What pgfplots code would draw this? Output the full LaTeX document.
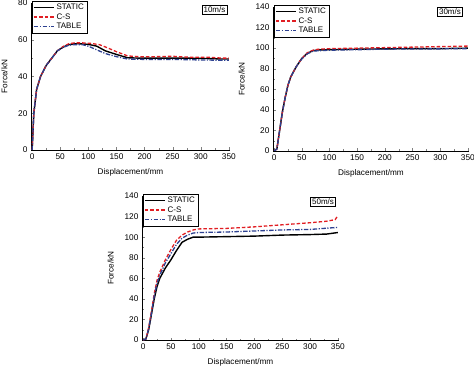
\documentclass[border=0pt]{standalone}
\usepackage{pgfplots}
\pgfplotsset{compat=1.18}
\usepackage{fontspec}
\setmainfont{Liberation Sans}
\definecolor{cred}{RGB}{225,30,35}
\definecolor{cblue}{RGB}{45,65,145}
\pgfplotsset{
  myax/.style={
    scale only axis,
    axis lines=left,
    axis line style={-, line width=0.5pt},
    tick align=inside,
    major tick length=2.5pt,
    minor tick length=1.5pt,
    minor x tick num=1,
    minor y tick num=1,
    xmin=-2, xmax=352,
    xtick={0,50,...,350},
    ymin=0,
    tick label style={font=\fontsize{8.3}{9}\selectfont},
    label style={font=\fontsize{8.2}{9}\selectfont},
    /pgf/number format/assume math mode=true,
    xlabel={Displacement/mm},
    ylabel={Force/kN},
    xlabel style={yshift=-2pt},
    ylabel style={yshift=4pt},
    legend cell align=left,
    legend style={font=\fontsize{8}{8.5}\selectfont, at={(rel axis cs:0.005,1.015)}, anchor=north west,
      draw=black, line width=0.4pt, inner sep=1pt, row sep=-1.5pt},
    legend image code/.code={\draw[#1, line width=1.4pt] (0pt,0pt) -- (20pt,0pt);},
  },
  sS/.style={color=black, line width=1.4pt},
  sC/.style={color=cred, line width=1.3pt, dash pattern=on 3.5pt off 2pt},
  sT/.style={color=cblue, line width=1.3pt, dash pattern=on 4.5pt off 1.5pt on 1.2pt off 1.5pt},
}
\begin{document}
\begin{tikzpicture}
\useasboundingbox (0,0) rectangle (474pt,-366pt);
% Plot 1
\begin{axis}[myax, at={(31pt,-150pt)}, anchor=south west, width=199pt, height=147pt,
  ymax=80, ytick={0,20,...,80}]
\addplot[sS] coordinates {(0,0)(3,20)(8,33)(15,40)(25,46)(35,50)(45,54)(55,56)(65,57.3)(75,57.8)(85,57.8)(100,57.5)(115,56.5)(130,54)(150,52)(170,50.2)(190,50)(220,50)(250,50)(280,50)(310,49.8)(340,49.5)(350,49.5)};
\addplot[sC] coordinates {(0,0)(3,20)(8,33)(15,40)(25,46)(35,50)(45,54)(55,56.3)(65,57.8)(75,58.3)(90,58.3)(105,58)(120,57.3)(135,55.5)(150,53.5)(170,51.2)(190,50.8)(220,50.8)(250,51)(280,50.5)(310,50.5)(340,50)(350,50)};
\addplot[sT] coordinates {(0,0)(3,20)(8,33)(15,40)(25,46)(35,50)(45,54)(55,55.8)(65,57)(75,57.3)(90,57.3)(100,56.5)(115,54.5)(130,52.5)(150,50.8)(170,49.5)(200,49.3)(250,49.3)(300,49)(350,48.8)};
\legend{STATIC, C-S, TABLE}
\node[draw, line width=0.4pt, inner sep=1.5pt, font=\fontsize{8}{8.5}\selectfont] at (rel axis cs:0.922,0.956) {10m/s};
\end{axis}
% Plot 2
\begin{axis}[myax, at={(273pt,-151pt)}, anchor=south west, width=196pt, height=144pt,
  ymax=140, ytick={0,20,...,140}]
\addplot[sS] coordinates {(0,0)(5,2)(10,20)(15,38)(20,52)(25,64)(30,72)(40,82)(50,90)(60,95)(70,97.5)(80,98.3)(100,98.5)(150,99)(200,99.3)(250,99.5)(300,99.5)(350,100)};
\addplot[sC] coordinates {(0,0)(5,2)(10,20)(15,38)(20,52)(25,64)(30,72)(40,82)(50,90)(60,95.5)(70,98)(80,99)(100,99.5)(150,100)(200,100.5)(250,101)(300,101.5)(350,102)};
\addplot[sT] coordinates {(0,0)(5,2)(10,20)(15,38)(20,52)(25,64)(30,72)(40,82)(50,89.5)(60,94.5)(70,97)(80,97.5)(100,98)(150,98.5)(200,99)(250,99.2)(300,99.3)(350,99.5)};
\legend{STATIC, C-S, TABLE}
\node[draw, line width=0.4pt, inner sep=1.5pt, font=\fontsize{8}{8.5}\selectfont] at (rel axis cs:0.903,0.965) {30m/s};
\end{axis}
% Plot 3
\begin{axis}[myax, at={(142pt,-340pt)}, anchor=south west, width=197pt, height=144pt,
  ymax=140, ytick={0,20,...,140}]
\addplot[sS] coordinates {(0,0)(5,1)(10,10)(15,25)(20,40)(25,52)(30,60)(40,70)(50,78)(60,87)(70,95)(80,98)(90,100)(100,100)(150,100.5)(200,101)(250,102)(300,102.5)(330,103)(350,104.5)};
\addplot[sC] coordinates {(0,0)(5,1)(10,12)(15,28)(20,45)(25,58)(30,66)(40,78)(50,88)(60,97)(70,102)(80,105)(90,107)(100,108)(150,108.5)(200,110)(250,112)(300,114)(330,115.5)(345,117)(350,121)};
\addplot[sT] coordinates {(0,0)(5,1)(10,11)(15,26)(20,43)(25,55)(30,63)(40,75)(50,84)(60,93)(70,99)(80,102)(90,104)(100,104.5)(150,105)(200,106)(250,107)(300,107.5)(350,109.5)};
\legend{STATIC, C-S, TABLE}
\node[draw, line width=0.4pt, inner sep=1.5pt, font=\fontsize{8}{8.5}\selectfont] at (rel axis cs:0.919,0.962) {50m/s};
\end{axis}
\end{tikzpicture}
\end{document}
